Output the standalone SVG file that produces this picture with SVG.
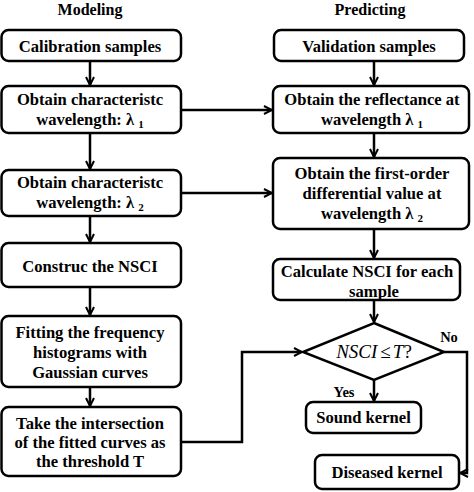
<svg xmlns="http://www.w3.org/2000/svg" width="474" height="492" viewBox="0 0 474 492">
<defs>
<marker id="arr" viewBox="0 0 10 10" refX="9" refY="5" markerWidth="10" markerHeight="10" markerUnits="userSpaceOnUse" orient="auto">
<path d="M1,1 L9,5 L1,9" fill="none" stroke="#000" stroke-width="2"/>
</marker>
<style>
.box{fill:#fff;stroke:#000;stroke-width:2.5}
text{font-family:'Liberation Serif',Tinos,'Times New Roman',Times,'DejaVu Serif',serif}
.t{font-weight:bold;font-size:16.6px;text-anchor:middle;fill:#000}
.h{font-weight:bold;font-size:16px;text-anchor:middle;fill:#000}
.sub{font-size:11px}
.lbl{font-weight:bold;font-size:14.5px;fill:#000}
.c{fill:none;stroke:#000;stroke-width:2.5}
.d{font-style:italic;font-size:19px;text-anchor:middle;fill:#000}
</style>
</defs>
<rect width="474" height="492" fill="#fff"/>
<text class="h" x="90" y="15">Modeling</text>
<text class="h" x="370" y="15">Predicting</text>

<g id="connectors">
<path class="c" d="M90,61 V85" marker-end="url(#arr)"/>
<path class="c" d="M90,133 V169" marker-end="url(#arr)"/>
<path class="c" d="M90,216 V242" marker-end="url(#arr)"/>
<path class="c" d="M90,287 V315" marker-end="url(#arr)"/>
<path class="c" d="M90,387 V406" marker-end="url(#arr)"/>
<path class="c" d="M374,61 V85" marker-end="url(#arr)"/>
<path class="c" d="M374,133 V157" marker-end="url(#arr)"/>
<path class="c" d="M374,229 V258" marker-end="url(#arr)"/>
<path class="c" d="M374,300 V322" marker-end="url(#arr)"/>
<path class="c" d="M374,380 V401" marker-end="url(#arr)"/>
<path class="c" d="M181,110 H272" marker-end="url(#arr)"/>
<path class="c" d="M181,193 H272" marker-end="url(#arr)"/>
<path class="c" d="M181,442 H242 V352 H302" marker-end="url(#arr)"/>
<path class="c" d="M444,352 H467 V473 H460" marker-end="url(#arr)"/>
<text class="lbl" x="449" y="342" text-anchor="middle">No</text>
<text class="lbl" x="344" y="397" text-anchor="middle">Yes</text>
</g>

<g id="calibration">
<rect class="box" x="1.5" y="30" width="179.5" height="31" rx="7"/>
<text class="t" x="90" y="52">Calibration samples</text>
</g>
<g id="char1">
<rect class="box" x="1.5" y="86" width="179.5" height="47" rx="7"/>
<text class="t" x="90" y="105">Obtain characteristc</text>
<text class="t" x="90" y="125">wavelength: λ <tspan class="sub" dy="3">1</tspan></text>
</g>
<g id="char2">
<rect class="box" x="1.5" y="170" width="179.5" height="46" rx="7"/>
<text class="t" x="90" y="188">Obtain characteristc</text>
<text class="t" x="90" y="208">wavelength: λ <tspan class="sub" dy="3">2</tspan></text>
</g>
<g id="nsci">
<rect class="box" x="1.5" y="243" width="179.5" height="44" rx="7"/>
<text class="t" x="90" y="272">Construc the NSCI</text>
</g>
<g id="fitting">
<rect class="box" x="1.5" y="316" width="179.5" height="71" rx="7"/>
<text class="t" x="90" y="338">Fitting the frequency</text>
<text class="t" x="90" y="358">histograms with</text>
<text class="t" x="90" y="378">Gaussian curves</text>
</g>
<g id="threshold">
<rect class="box" x="1.5" y="407" width="179.5" height="69" rx="7"/>
<text class="t" x="90" y="429">Take the intersection</text>
<text class="t" x="90" y="448">of the fitted curves as</text>
<text class="t" x="90" y="467">the threshold T</text>
</g>

<g id="validation">
<rect class="box" x="274" y="30" width="190" height="31" rx="7"/>
<text class="t" x="369" y="52">Validation samples</text>
</g>
<g id="reflectance">
<rect class="box" x="273" y="86" width="196" height="47" rx="7"/>
<text class="t" x="372" y="105">Obtain the reflectance at</text>
<text class="t" x="372" y="125">wavelength λ <tspan class="sub" dy="3">1</tspan></text>
</g>
<g id="firstorder">
<rect class="box" x="273" y="158" width="196" height="71" rx="7"/>
<text class="t" x="372" y="179">Obtain the first-order</text>
<text class="t" x="372" y="199">differential value at</text>
<text class="t" x="372" y="219">wavelength  λ <tspan class="sub" dy="3">2</tspan></text>
</g>
<g id="calculate">
<rect class="box" x="273" y="259" width="187" height="41" rx="7"/>
<text class="t" x="367" y="277">Calculate NSCI for each</text>
<text class="t" x="374" y="297">sample</text>
</g>
<g id="decision">
<polygon class="box" points="374,323 444,352 374,380 303,352"/>
<text class="d" x="374" y="358">NSCI<tspan dx="3" font-style="normal">≤</tspan><tspan dx="2">T</tspan><tspan font-style="normal">?</tspan></text>
</g>
<g id="sound">
<rect class="box" x="306" y="402" width="115" height="31" rx="7"/>
<text class="t" x="363.5" y="423">Sound kernel</text>
</g>
<g id="diseased">
<rect class="box" x="315" y="455" width="144" height="34" rx="7"/>
<text class="t" x="387" y="478">Diseased kernel</text>
</g>
</svg>
